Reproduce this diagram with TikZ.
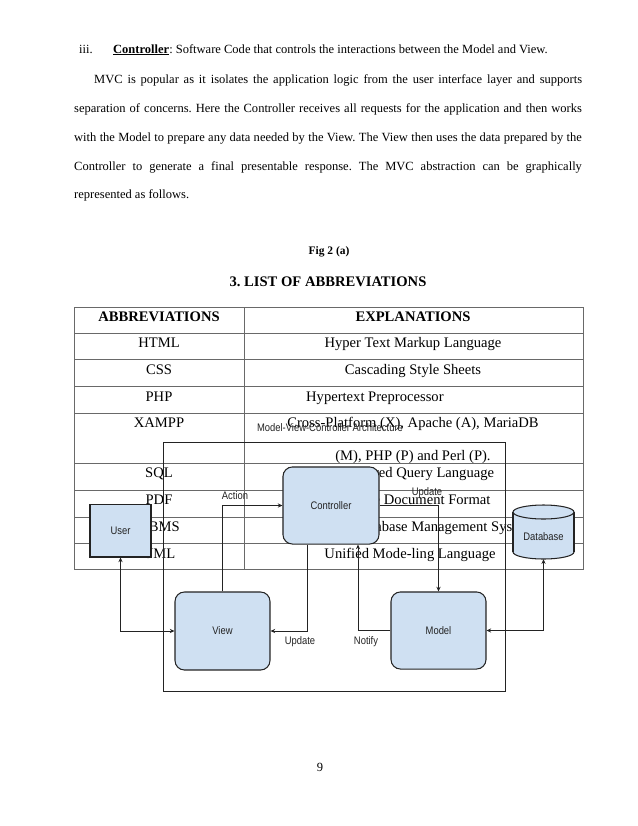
\documentclass[tikz,border=0pt]{standalone}
\usepackage{fontspec}
\setmainfont{Liberation Serif}
\newfontfamily\archfont[FakeStretch=0.86]{Liberation Sans}
\usetikzlibrary{arrows.meta,calc}
\frenchspacing
\definecolor{boxblue}{RGB}{207,224,242}
\definecolor{edgegray}{RGB}{35,35,35}
\definecolor{rulegray}{RGB}{105,105,105}
\tikzset{
  bodytext/.style={inner sep=0pt, anchor=base west, font=\fontsize{12}{14}\selectfont},
  celltext/.style={inner sep=0pt, anchor=base, font=\fontsize{14}{16}\selectfont},
  tablerule/.style={draw=rulegray, line width=0.8pt},
  mvcbox/.style={draw=edgegray, fill=boxblue, line width=1pt, rounded corners=9pt,
    inner sep=0pt, text=edgegray, font=\archfont\fontsize{10.5}{12}\selectfont},
  flow/.style={draw=edgegray, line width=0.9pt, >={Stealth[length=4.5pt,width=4pt]}},
  flowlabel/.style={inner sep=0pt, text=edgegray, font=\archfont\fontsize{10.5}{12}\selectfont},
}
\begin{document}
\begin{tikzpicture}[x=0.9592pt, y=-0.9592pt]
\useasboundingbox (0,0) rectangle (638,826);
% page text
\node[bodytext] (item) at (79,53) {iii.};
\node[bodytext] (itemtext) at (113,53) {\textbf{\underline{Controller}}: Software Code that controls the interactions between the Model and View.};
\node[bodytext] (par1) at (94,83) {\makebox[468pt][s]{MVC is popular as it isolates the application logic from the user interface layer and supports}};
\node[bodytext] (par2) at (74,112) {\makebox[487pt][s]{separation of concerns. Here the Controller receives all requests for the application and then works}};
\node[bodytext] (par3) at (74,141) {\makebox[487pt][s]{with the Model to prepare any data needed by the View. The View then uses the data prepared by the}};
\node[bodytext] (par4) at (74,170) {\makebox[487pt][s]{Controller to generate a final presentable response. The MVC abstraction can be graphically}};
\node[bodytext] (par5) at (74,198) {represented as follows.};
\node[celltext, font=\bfseries\fontsize{11}{13}\selectfont] (figcap) at (329,254) {Fig 2 (a)};
\node[celltext, font=\bfseries\fontsize{14}{16}\selectfont] (heading) at (328,286) {3. LIST OF ABBREVIATIONS};
% table
\draw[tablerule] (74,307) rectangle (583,569);
\foreach \y in {333,359,386,413,463,490,517,543}
	\draw[tablerule] (74,\y) -- (583,\y);
\draw[tablerule] (244,307) -- (244,569);
\node[celltext, font=\bfseries\fontsize{14}{16}\selectfont] (hdabbr) at (159,321) {ABBREVIATIONS};
\node[celltext, font=\bfseries\fontsize{14}{16}\selectfont] (hdexpl) at (413,321) {EXPLANATIONS};
\node[celltext] (abhtml) at (159,347) {HTML};
\node[celltext] (abcss) at (159,374) {CSS};
\node[celltext] (abphp) at (159,401) {PHP};
\node[celltext] (abxampp) at (159,427) {XAMPP};
\node[celltext] (absql) at (159,477) {SQL};
\node[celltext] (abpdf) at (159,504) {PDF};
\node[celltext] (abdbms) at (159,531) {DBMS};
\node[celltext] (abuml) at (159,558) {UML};
\node[celltext] (exhtml) at (413,347) {Hyper Text Markup Language};
\node[celltext] (excss) at (413,374) {Cascading Style Sheets};
\node[celltext, anchor=base west] (exphp) at (306,401) {Hypertext Preprocessor};
\node[celltext] (exxampp) at (413,427) {Cross-Platform (X), Apache (A), MariaDB};
\node[celltext] (exxampptwo) at (413,460) {(M), PHP (P) and Perl (P).};
\node[celltext] (exsql) at (413,477) {Structured Query Language};
\node[celltext] (expdf) at (411,504) {Portable Document Format};
\node[celltext, anchor=base west] (exdbms) at (354,531) {Database Management System};
\node[celltext] (exuml) at (410,558) {Unified Mode-ling Language};
% mvc figure
\node[flowlabel] (archtitle) at (330,428) {Model-View-Controller Architecture};
\draw[edgegray, line width=0.9pt] (163,442) rectangle (505,691);
\node[mvcbox, rounded corners=0pt, minimum width=58.5pt, minimum height=50.8pt] (user) at (120.5,530.5) {User};
\node[mvcbox, minimum width=92.1pt, minimum height=73.9pt] (ctrl) at (331,505.5) {Controller};
\node[mvcbox, minimum width=91.1pt, minimum height=74.8pt] (view) at (222.5,631) {View};
\node[mvcbox, minimum width=91.1pt, minimum height=73.9pt] (model) at (438.5,630.5) {Model};
% database drum
\draw[edgegray, fill=boxblue, line width=1pt] (543.5,552) ellipse [x radius=30.5, y radius=7];
\fill[boxblue] (513,512) rectangle (574,552);
\draw[edgegray, line width=1pt] (513,512) -- (513,552) (574,512) -- (574,552);
\draw[edgegray, fill=boxblue, line width=1pt] (543.5,512) ellipse [x radius=30.5, y radius=7];
\node[flowlabel, minimum height=42.2pt] (db) at (543.5,537) {Database};
% connectors
\draw[flow, ->] (view.north) |- (ctrl.west);
\draw[flow, ->] (ctrl.east) -| (model.north);
\draw[flow, ->] ($(ctrl.south)+(-24,0)$) |- (view.east);
\draw[flow, ->] (model.west) -| ($(ctrl.south)+(27,0)$);
\draw[flow, <->] (user.south) |- (view.west);
\draw[flow, <->] (db.south) |- (model.east);
\node[flowlabel] (actionlbl) at (235,496) {Action};
\node[flowlabel] (updatetop) at (427,493) {Update};
\node[flowlabel] (updatelow) at (300,642) {Update};
\node[flowlabel] (notifylbl) at (366,642) {Notify};
\node[celltext, font=\fontsize{12}{14}\selectfont] (pagenum) at (320,771) {9};
\end{tikzpicture}
\end{document}
